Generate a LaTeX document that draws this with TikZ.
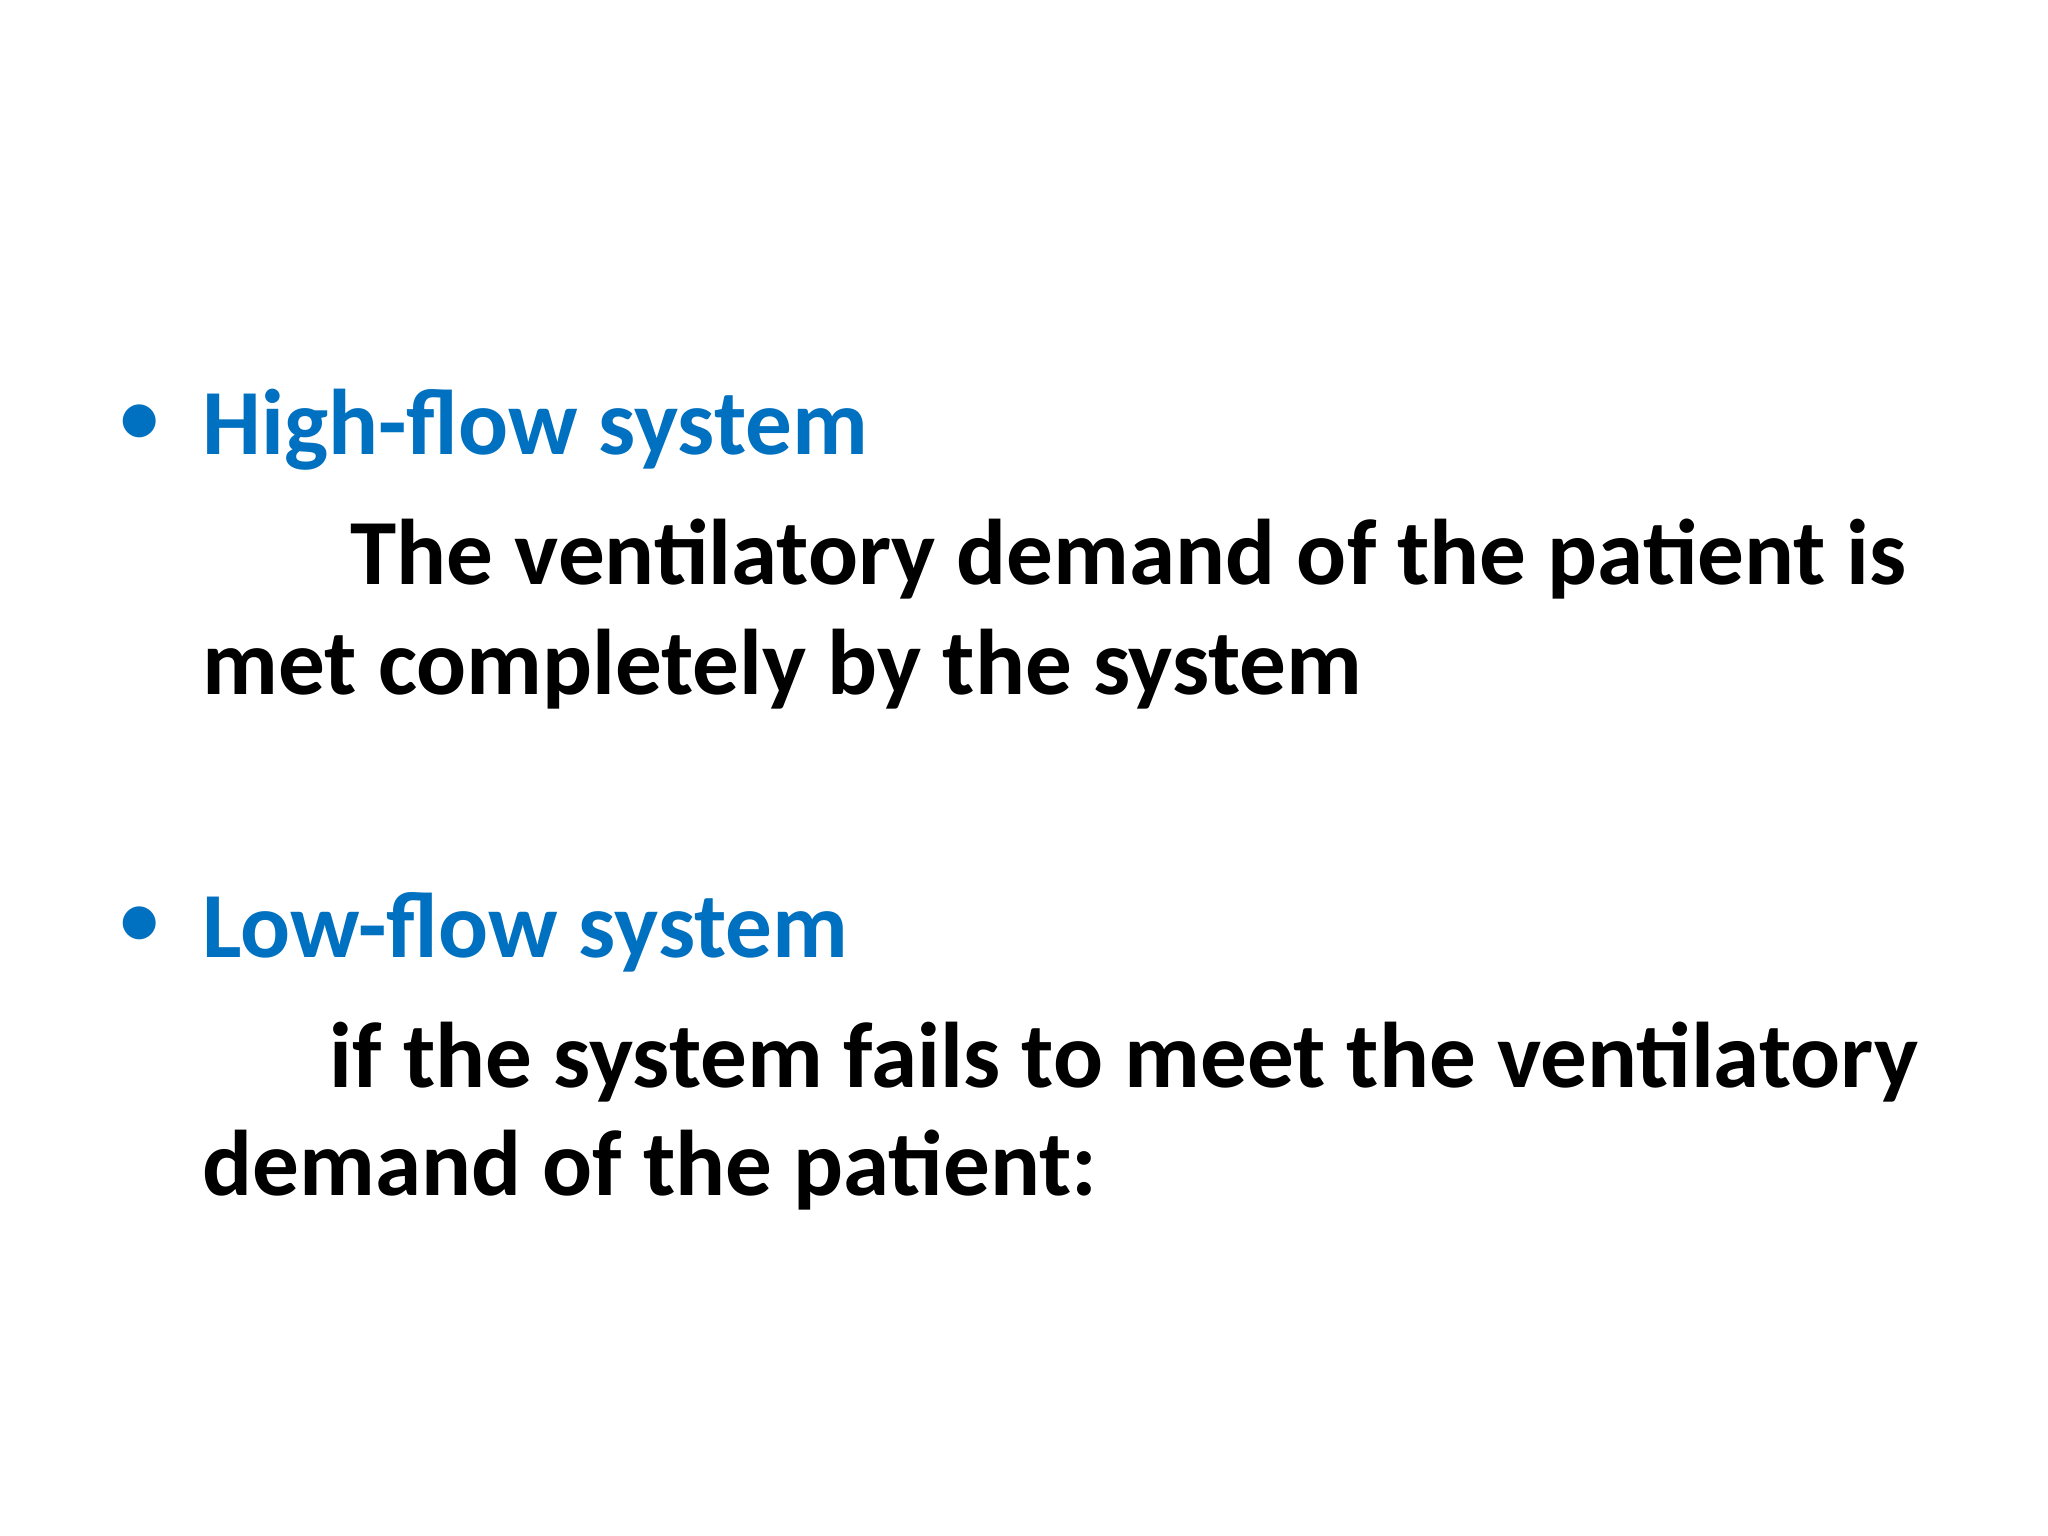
\documentclass[tikz,border=0pt]{standalone}
\usepackage{fontspec}
\setmainfont{Carlito}
\definecolor{hblue}{HTML}{0070C0}
\begin{document}
\begin{tikzpicture}[x=0.01cm,y=-0.01cm,
  txt/.style={anchor=base west,inner sep=0pt,font=\fontsize{26.5}{32}\selectfont\bfseries},
  head/.style={txt,text=hblue},
  bul/.style={anchor=center,inner sep=0pt,font=\fontsize{26.5}{32}\selectfont,text=hblue}]
\useasboundingbox[fill=white] (0,0) rectangle (2048,1536);
\node[bul] (b1) at (140,426) {•};
\node[head] (h1) at (202,454) {High-flow system};
\node[txt] (t1) at (350,584) {The ventilatory demand of the patient is};
\node[txt] (t2) at (202,694) {met completely by the system};
\node[bul] (b2) at (140,928) {•};
\node[head] (h2) at (202,957) {Low-flow system};
\node[txt] (t3) at (329,1087) {if the system fails to meet the ventilatory};
\node[txt] (t4) at (202,1195) {demand of the patient:};
\end{tikzpicture}
\end{document}
